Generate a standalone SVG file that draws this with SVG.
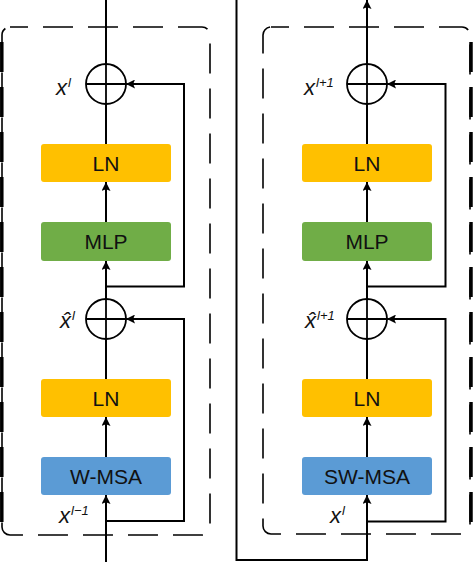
<svg xmlns="http://www.w3.org/2000/svg" width="474" height="562" viewBox="0 0 474 562">
<style>
.frame{fill:none;stroke:#000;stroke-width:1.6;stroke-dasharray:30 15;stroke-dashoffset:12}
.thick{fill:none;stroke:#000;stroke-width:3.5;stroke-dasharray:30 15}
.ln{fill:#FFC000}
.mlp{fill:#70AD47}
.msa{fill:#5B9BD5}
.lbl{font-family:"Liberation Sans",Arial,sans-serif;font-size:21px;fill:#111;text-anchor:middle}
.var{font-family:"Liberation Sans",Arial,sans-serif;font-size:22px;font-style:italic;fill:#111}
.sup{font-size:13px}
.wire{fill:none;stroke:#000;stroke-width:2}
.add{fill:none;stroke:#000;stroke-width:1.8}
</style>
<defs>
<marker id="ah" viewBox="0 0 10 10" refX="10" refY="5" markerWidth="10" markerHeight="9" markerUnits="userSpaceOnUse" orient="auto">
<path d="M0,0 L10,5 L0,10 L2,5 z" fill="#000"/>
</marker>
</defs>
<g id="frames">
<rect class="frame" x="2" y="27" width="208" height="508" rx="8"/>
<line class="thick" x1="1.8" y1="42" x2="1.8" y2="525"/>
<rect class="frame" x="263" y="27" width="207" height="507" rx="8"/>
<line class="thick" x1="471" y1="42" x2="471" y2="524"/>
</g>
<g id="connectors">
<line class="wire" x1="106" y1="562" x2="106" y2="495" marker-end="url(#ah)"/>
<polyline class="wire" points="106,521 184,521 184,319 126,319" marker-end="url(#ah)"/>
<line class="wire" x1="106" y1="457" x2="106" y2="417" marker-end="url(#ah)"/>
<line class="wire" x1="106" y1="379" x2="106" y2="339"/>
<line class="wire" x1="106" y1="299" x2="106" y2="261" marker-end="url(#ah)"/>
<polyline class="wire" points="106,286.5 184,286.5 184,84 126,84" marker-end="url(#ah)"/>
<line class="wire" x1="106" y1="222" x2="106" y2="182" marker-end="url(#ah)"/>
<line class="wire" x1="106" y1="144" x2="106" y2="104"/>
<line class="wire" x1="106" y1="64" x2="106" y2="0"/>
<polyline class="wire" points="236.5,0 236.5,560 367,560 367,495" marker-end="url(#ah)"/>
<polyline class="wire" points="367,521.5 445.5,521.5 445.5,319 387,319" marker-end="url(#ah)"/>
<line class="wire" x1="367" y1="457" x2="367" y2="417" marker-end="url(#ah)"/>
<line class="wire" x1="367" y1="379" x2="367" y2="339"/>
<line class="wire" x1="367" y1="299" x2="367" y2="261" marker-end="url(#ah)"/>
<polyline class="wire" points="367,286.5 445.5,286.5 445.5,84 387,84" marker-end="url(#ah)"/>
<line class="wire" x1="367" y1="222" x2="367" y2="182" marker-end="url(#ah)"/>
<line class="wire" x1="367" y1="144" x2="367" y2="104"/>
<line class="wire" x1="367" y1="64" x2="367" y2="0" marker-end="url(#ah)"/>
</g>
<g id="add1"><circle class="add" cx="106" cy="84" r="20"/><line class="add" x1="86" y1="84" x2="126" y2="84"/><line class="add" x1="106" y1="64" x2="106" y2="104"/></g>
<g id="add2"><circle class="add" cx="106" cy="319" r="20"/><line class="add" x1="86" y1="319" x2="126" y2="319"/><line class="add" x1="106" y1="299" x2="106" y2="339"/></g>
<g id="add3"><circle class="add" cx="367" cy="84" r="20"/><line class="add" x1="347" y1="84" x2="387" y2="84"/><line class="add" x1="367" y1="64" x2="367" y2="104"/></g>
<g id="add4"><circle class="add" cx="367" cy="319" r="20"/><line class="add" x1="347" y1="319" x2="387" y2="319"/><line class="add" x1="367" y1="299" x2="367" y2="339"/></g>
<g id="ln1"><rect class="ln" x="41" y="144" width="130" height="38" rx="3"/><text class="lbl" x="106" y="170.5">LN</text></g>
<g id="mlp1"><rect class="mlp" x="41" y="222" width="130" height="39" rx="3"/><text class="lbl" x="106" y="249">MLP</text></g>
<g id="ln2"><rect class="ln" x="41" y="379" width="130" height="38" rx="3"/><text class="lbl" x="106" y="405.5">LN</text></g>
<g id="wmsa"><rect class="msa" x="41" y="457" width="130" height="38" rx="3"/><text class="lbl" x="106" y="483.5">W-MSA</text></g>
<g id="ln3"><rect class="ln" x="302" y="144" width="130" height="38" rx="3"/><text class="lbl" x="367" y="170.5">LN</text></g>
<g id="mlp2"><rect class="mlp" x="302" y="222" width="130" height="39" rx="3"/><text class="lbl" x="367" y="249">MLP</text></g>
<g id="ln4"><rect class="ln" x="302" y="379" width="130" height="38" rx="3"/><text class="lbl" x="367" y="405.5">LN</text></g>
<g id="swmsa"><rect class="msa" x="302" y="457" width="130" height="38" rx="3"/><text class="lbl" x="367" y="483.5">SW-MSA</text></g>
<g id="labels">
<text class="var" x="56" y="95">x<tspan class="sup" dx="1" dy="-8">l</tspan></text>
<text class="var" x="60" y="328">x̂<tspan class="sup" dx="1" dy="-8">l</tspan></text>
<text class="var" x="59" y="523">x<tspan class="sup" dx="1" dy="-8">l−1</tspan></text>
<text class="var" x="304" y="95">x<tspan class="sup" dx="1" dy="-8">l+1</tspan></text>
<text class="var" x="305" y="328">x̂<tspan class="sup" dx="1" dy="-8">l+1</tspan></text>
<text class="var" x="330" y="523">x<tspan class="sup" dx="1" dy="-8">l</tspan></text>
</g>
</svg>
